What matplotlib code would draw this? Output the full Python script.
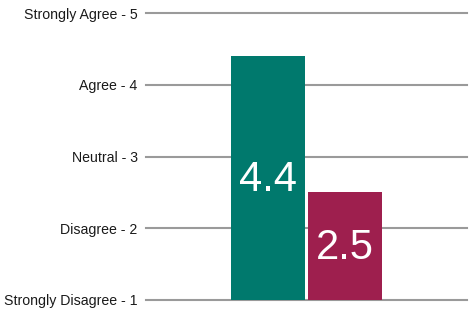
import matplotlib
matplotlib.use("Agg")
import matplotlib.pyplot as plt

categories = ["A", "B"]
values = [4.4, 2.5]
value_labels = ["4.4", "2.5"]
colors = ["#00796D", "#9E1F4E"]
tick_values = [1, 2, 3, 4, 5]
tick_labels = ["Strongly Disagree - 1", "Disagree - 2", "Neutral - 3",
               "Agree - 4", "Strongly Agree - 5"]

plt.rcParams['font.family'] = ['Liberation Sans', 'DejaVu Sans']

fig = plt.figure(figsize=(4.74, 3.14), dpi=100)
ax = fig.add_axes([146/474, 14/314, 321/474, 287/314])

base = 1
xs = list(range(len(categories)))
bars = ax.bar(xs, [v - base for v in values], bottom=base, width=0.96,
              color=colors, zorder=3, linewidth=0)
for x, v, lab in zip(xs, values, value_labels):
    ax.text(x, (v + base) / 2 - 0.03, lab, ha="center", va="center",
            color="white", fontsize=30, zorder=4)

ax.set_ylim(1, 5)
ax.set_xlim(-1.58, 2.58)
ax.set_yticks(tick_values)
ax.set_yticklabels(tick_labels, fontsize=10.2, color="#1a1a1a")
ax.set_xticks([])
ax.tick_params(axis="y", length=0, pad=6)
ax.yaxis.grid(True, color="#9a9a9a", linewidth=1.5, zorder=0)
for gl in ax.get_ygridlines():
    gl.set_clip_on(False)
for s in ax.spines.values():
    s.set_visible(False)

fig.savefig("out.png", dpi=100)
